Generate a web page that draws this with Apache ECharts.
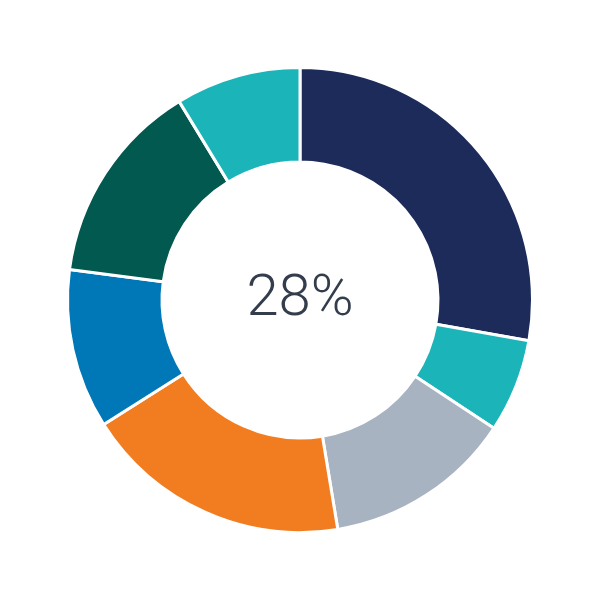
<!DOCTYPE html>
<html>
<head>
  <meta charset="utf-8">
  <title>ECharts</title>
  <script src="https://cdn.jsdelivr.net/npm/echarts@6/dist/echarts.min.js"></script>
  <style>body{margin:0;background:#fff;}</style>
</head>
<body>
<div id="main" style="width: 600px;height:600px;"></div>
<script type="text/javascript">
  var names = ['A', 'B', 'C', 'D', 'E', 'F', 'G'];
  var values = [27.8, 6.5, 13.1, 18.6, 11.1, 14.2, 8.7];
  var colors = ['#1c2b5a', '#1bb4b8', '#a8b3c1', '#f27d21', '#0077b6', '#02594f', '#1bb4b8'];
  var centerLabel = '28%';

  var myChart = echarts.init(document.getElementById('main'));

  var option = {
    animation: false,
    title: {
      text: centerLabel,
      left: 'center',
      top: 'middle',
      textStyle: {
        fontFamily: 'Roboto',
        fontWeight: 300,
        fontSize: 58,
        color: '#333d4b'
      }
    },
    series: [{
      type: 'pie',
      center: ['50%', '50%'],
      radius: ['46%', '77.5%'],
      startAngle: 90,
      clockwise: true,
      label: { show: false },
      labelLine: { show: false },
      emphasis: { disabled: true },
      itemStyle: { borderColor: '#fff', borderWidth: 3 },
      data: names.map(function (n, i) {
        return { name: n, value: values[i], itemStyle: { color: colors[i] } };
      })
    }]
  };

  myChart.setOption(option);
</script>
</body>
</html>
